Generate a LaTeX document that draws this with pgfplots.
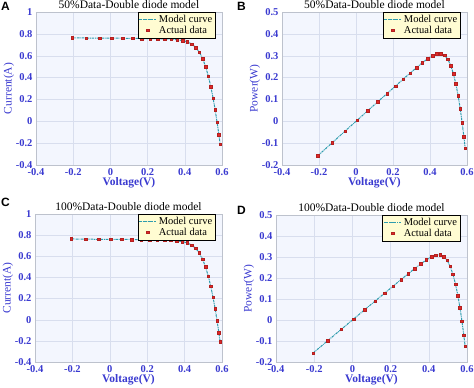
\documentclass[border=0pt]{standalone}
\usepackage{fontspec}
\setmainfont{Liberation Serif}
\newfontfamily\sansb{Liberation Sans}
\usepackage{pgfplots}
\usepackage{pgfplotstable}
\pgfplotsset{compat=1.18}
\definecolor{tickblue}{HTML}{3A3AD0}
\definecolor{bgblue}{HTML}{F3F6FE}
\definecolor{gridc}{HTML}{D8DEEE}
\definecolor{modelc}{HTML}{2E9CAE}
\definecolor{datac}{HTML}{E02828}
\definecolor{legy}{HTML}{FFFCD2}
\pgfplotstableread{
V I P
-0.2057 0.7640 -0.15715
-0.1291 0.7620 -0.09837
-0.0588 0.7605 -0.04472
0.0057 0.7605 0.00433
0.0646 0.7600 0.04910
0.1185 0.7590 0.08994
0.1678 0.7570 0.12702
0.2132 0.7570 0.16139
0.2545 0.7555 0.19227
0.2924 0.7540 0.22047
0.3269 0.7505 0.24534
0.3585 0.7465 0.26762
0.3873 0.7385 0.28602
0.4137 0.7280 0.30117
0.4373 0.7065 0.30895
0.4590 0.6755 0.31005
0.4784 0.6320 0.30235
0.4960 0.5730 0.28421
0.5119 0.4990 0.25544
0.5265 0.4130 0.21744
0.5398 0.3165 0.17085
0.5521 0.2120 0.11705
0.5633 0.1035 0.05830
0.5736 -0.0100 -0.00574
0.5833 -0.1230 -0.07175
0.5900 -0.2100 -0.12390
}\datatab
\pgfplotsset{
  panel/.style={
    scale only axis,
    anchor=south west,
    xmin=-0.4, xmax=0.6,
    xtick={-0.4,-0.2,0,0.2,0.4,0.6},
    axis background/.style={fill=bgblue},
    axis line style={draw=gridc!70!gray},
    grid=major,
    major grid style={draw=gridc, line width=0.4pt},
    tick style={draw=none},
    ticklabel style={font=\fontsize{10.5}{11}\selectfont\bfseries, text=tickblue},
    /pgf/number format/assume math mode=true,
    /pgf/number format/fixed,
    /pgf/number format/precision=1,
    xlabel={Voltage(V)},
    xlabel style={font=\fontsize{11.5}{12}\selectfont\bfseries, text=tickblue, yshift=5pt},
    ylabel style={font=\fontsize{11.5}{12}\selectfont, text=tickblue, yshift=-5pt},
    title style={font=\fontsize{11.5}{12}\selectfont, yshift=-6pt},
    legend style={at={(rel axis cs:0.965,1)}, anchor=north east, fill=legy, draw=black, line width=0.4pt,
      font=\fontsize{10.5}{10.5}\selectfont, inner sep=1pt, row sep=-2pt, cells={anchor=west}},
    legend cell align=left,
  },
  iv/.style={ymin=-0.4, ymax=1, ytick={-0.4,-0.2,0,0.2,0.4,0.6,0.8,1}, ylabel={Current(A)}},
  pv/.style={ymin=-0.2, ymax=0.5, ytick={-0.2,-0.1,0,0.1,0.2,0.3,0.4,0.5}, ylabel={Power(W)}},
  model/.style={modelc, line width=1pt, dash pattern=on 2.5pt off 0.8pt on 0.8pt off 0.8pt, no marks},
  dat/.style={only marks, mark=square*, mark size=1.3pt, mark options={fill=datac, draw=datac!80!black}},
}
\begin{document}
\begin{tikzpicture}
\path[use as bounding box] (0pt,0pt) rectangle (474pt,388pt);
% A
\begin{axis}[panel, iv, at={(36pt,223pt)}, width=186pt, height=153pt, title={50\%Data-Double diode model}]
\addplot[model] table[x=V,y=I]{\datatab};
\addplot[dat] table[x=V,y=I]{\datatab};
\legend{Model curve, Actual data}
\end{axis}
% B
\begin{axis}[panel, pv, at={(282pt,223pt)}, width=185pt, height=153pt, title={50\%Data-Double diode model}]
\addplot[model] table[x=V,y=P]{\datatab};
\addplot[dat] table[x=V,y=P]{\datatab};
\legend{Model curve, Actual data}
\end{axis}
% C
\begin{axis}[panel, iv, at={(35pt,26pt)}, width=187pt, height=148pt, title={100\%Data-Double diode model}]
\addplot[model] table[x=V,y=I]{\datatab};
\addplot[dat] table[x=V,y=I]{\datatab};
\legend{Model curve, Actual data}
\end{axis}
% D
\begin{axis}[panel, pv, at={(276pt,26pt)}, width=191pt, height=147pt, title={100\%Data-Double diode model}]
\addplot[model] table[x=V,y=P]{\datatab};
\addplot[dat] table[x=V,y=P]{\datatab};
\legend{Model curve, Actual data}
\end{axis}
\node[anchor=north west, inner sep=0pt, font=\sansb\bfseries\fontsize{12}{12}\selectfont] at (1pt,386pt) {A};
\node[anchor=north west, inner sep=0pt, font=\sansb\bfseries\fontsize{12}{12}\selectfont] at (237pt,386pt) {B};
\node[anchor=north west, inner sep=0pt, font=\sansb\bfseries\fontsize{12}{12}\selectfont] at (1pt,190pt) {C};
\node[anchor=north west, inner sep=0pt, font=\sansb\bfseries\fontsize{12}{12}\selectfont] at (237pt,182pt) {D};
\end{tikzpicture}
\end{document}
